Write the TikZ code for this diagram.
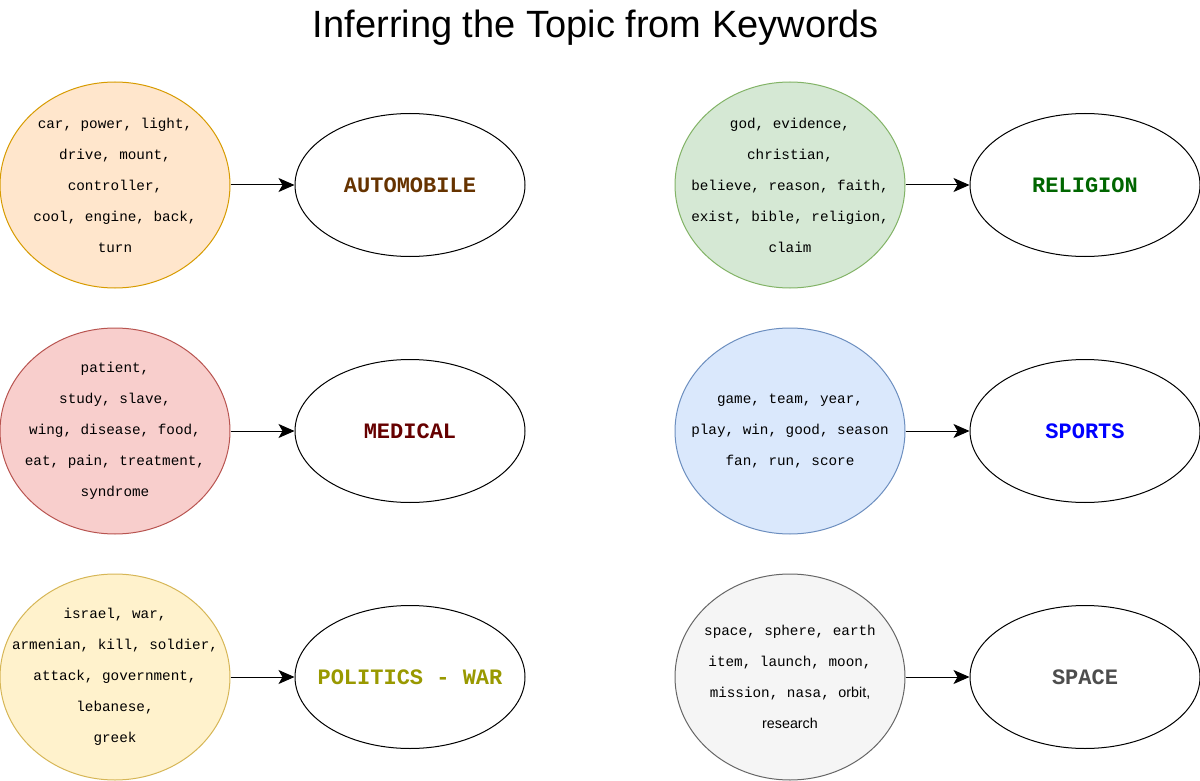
\documentclass[tikz,border=0pt]{standalone}
\usepackage{fontspec}
\setmainfont{Liberation Sans}
\newfontfamily\kwfont{Liberation Mono}
\usetikzlibrary{arrows.meta,shapes.geometric,positioning}

\definecolor{autofill}{HTML}{FFE6CC}
\definecolor{autoline}{HTML}{D79B00}
\definecolor{medfill}{HTML}{F8CECC}
\definecolor{medline}{HTML}{B85450}
\definecolor{polfill}{HTML}{FFF2CC}
\definecolor{polline}{HTML}{D6B656}
\definecolor{relfill}{HTML}{D5E8D4}
\definecolor{relline}{HTML}{82B366}
\definecolor{sportfill}{HTML}{DAE8FC}
\definecolor{sportline}{HTML}{6C8EBF}
\definecolor{spacefill}{HTML}{F5F5F5}
\definecolor{spaceline}{HTML}{666666}

\begin{document}
\begin{tikzpicture}[x=1pt,y=-1pt,->,>={Stealth[length=16pt,width=14pt,inset=4pt]},
                    line width=1pt,node distance=64pt]
  \tikzstyle{words}=[ellipse,draw,minimum width=230pt,minimum height=206pt,
                     inner xsep=-40pt,inner ysep=0pt,align=center,
                     font=\kwfont\fontsize{14.3}{31}\selectfont]
  \tikzstyle{topic}=[ellipse,draw=black,fill=white,minimum width=230pt,
                     minimum height=143pt,inner xsep=-30pt,inner ysep=0pt,
                     font=\kwfont\bfseries\fontsize{22}{22}\selectfont]

  \useasboundingbox (0,0) rectangle (1200,781);

  \node[anchor=base,font=\fontsize{38}{38}\selectfont] (title) at (596,38)
        {Inferring the Topic from Keywords};

  % left column
  \node[words,fill=autofill,draw=autoline] (A) at (115,185)
        {car, power, light,\\drive, mount,\\controller,\\cool, engine, back,\\turn};
  \node[topic,text={rgb,255:red,102;green,51;blue,0}] (AT) [right=of A] {AUTOMOBILE};

  \node[words,fill=medfill,draw=medline] (M) at (115,431)
        {patient,\\study, slave,\\wing, disease, food,\\eat, pain, treatment,\\syndrome};
  \node[topic,text={rgb,255:red,102;green,0;blue,0}] (MT) [right=of M] {MEDICAL};

  \node[words,fill=polfill,draw=polline] (P) at (115,677)
        {israel, war,\\armenian, kill, soldier,\\attack, government,\\lebanese,\\greek};
  \node[topic,text={rgb,255:red,153;green,153;blue,0}] (PT) [right=of P] {POLITICS - WAR};

  % right column
  \node[words,fill=relfill,draw=relline] (R) at (790,185)
        {god, evidence,\\christian,\\believe, reason, faith,\\exist, bible, religion,\\claim};
  \node[topic,text={rgb,255:red,0;green,102;blue,0}] (RT) [right=of R] {RELIGION};

  \node[words,fill=sportfill,draw=sportline] (S) at (790,431)
        {game, team, year,\\play, win, good, season\\fan, run, score};
  \node[topic,text={rgb,255:red,0;green,0;blue,255}] (ST) [right=of S] {SPORTS};

  \node[words,fill=spacefill,draw=spaceline] (X) at (790,677)
        {space, sphere, earth\\item, launch, moon,\\mission, nasa, {\rmfamily orbit,}\\{\rmfamily research}};
  \node[topic,text={rgb,255:red,77;green,77;blue,77}] (XT) [right=of X] {SPACE};

  \path (A) edge (AT)
        (M) edge (MT)
        (P) edge (PT)
        (R) edge (RT)
        (S) edge (ST)
        (X) edge (XT);

\end{tikzpicture}
\end{document}
